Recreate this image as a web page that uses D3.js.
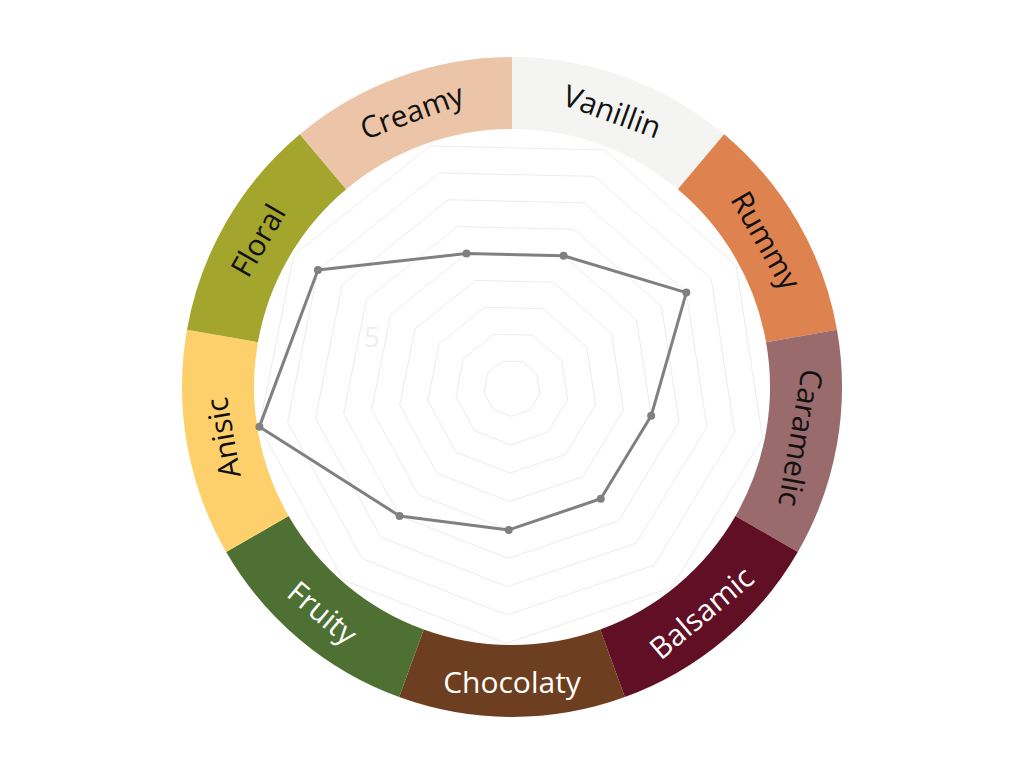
<!DOCTYPE html>
<html>
<head>
<meta charset="utf-8">
<script src="https://cdn.jsdelivr.net/npm/d3@7"></script>
<style>
  body { margin: 0; background: #fff; }
  svg { display: block; }
  text { font-family: "Open Sans", "Noto Sans", sans-serif; }
</style>
</head>
<body>
<div id="chart"></div>
<script>
const categories = ["Vanillin", "Rummy", "Caramelic", "Balsamic", "Chocolaty", "Fruity", "Anisic", "Floral", "Creamy"];
const values = [5, 7, 5, 5, 5, 6, 9, 8, 5];
const ringColors = ["#f4f4f2", "#de834f", "#9a6b6c", "#600f24", "#6e3e21", "#4e7133", "#fed06c", "#a4a52d", "#ecc5a8"];
const textColors = ["#111", "#111", "#111", "#fff", "#fff", "#fff", "#111", "#111", "#111"];
const levels = [1, 2, 3, 4, 5, 6, 7, 8, 9];
const tickLabels = ["5"];

const width = 1024;
const height = 768;
const cx = 512, cy = 387;
const outerR = 330, innerR = 258;

const svg = d3.select("#chart")
    .append("svg")
    .attr("width", width)
    .attr("height", height);

const n = categories.length;
const step = 2 * Math.PI / n;

// ring of categories
const arc = d3.arc().innerRadius(innerR).outerRadius(outerR);
const ring = svg.append("g").attr("transform", `translate(${cx},${cy})`);

ring.selectAll("path")
    .data(categories)
    .enter()
    .append("path")
    .attr("d", (d, i) => arc({startAngle: i * step, endAngle: (i + 1) * step}))
    .attr("fill", (d, i) => ringColors[i]);

const midR = (innerR + outerR) / 2;
ring.selectAll("text")
    .data(categories)
    .enter()
    .append("text")
    .attr("transform", (d, i) => {
        const a = (i + 0.5) * 360 / n;
        const rad = a * Math.PI / 180;
        const x = midR * Math.sin(rad);
        const y = -midR * Math.cos(rad);
        const rot = (a > 110 && a < 250) ? a - 180 : a;
        return `translate(${x},${y}) rotate(${rot})`;
    })
    .attr("text-anchor", "middle")
    .attr("dominant-baseline", "central")
    .attr("font-size", 30)
    .attr("fill", (d, i) => textColors[i])
    .text(d => d);

// radar (sits a touch turned in the original)
const r = d3.scaleLinear().domain([0, 9]).range([0, 255.5]);
const tilt = 1.3 * Math.PI / 180;
const angle = i => (i + 0.5) * step + tilt;
const radar = svg.append("g").attr("transform", `translate(${cx},${cy + 1})`);

const lineRadial = d3.lineRadial()
    .angle((d, i) => angle(i))
    .radius(d => r(d))
    .curve(d3.curveLinearClosed);

radar.selectAll(".grid")
    .data(levels)
    .enter()
    .append("path")
    .attr("class", "grid")
    .attr("d", lv => lineRadial(categories.map(() => lv)))
    .attr("fill", "none")
    .attr("stroke", "#ececec")
    .attr("stroke-width", 1);

radar.selectAll(".tick")
    .data(tickLabels)
    .enter()
    .append("text")
    .attr("class", "tick")
    .attr("x", d => -r(+d) + 2)
    .attr("y", -52)
    .attr("text-anchor", "middle")
    .attr("dominant-baseline", "central")
    .attr("font-size", 28)
    .attr("fill", "#eeeeee")
    .text(d => d);

radar.append("path")
    .attr("d", lineRadial(values))
    .attr("fill", "none")
    .attr("stroke", "#808080")
    .attr("stroke-width", 3)
    .attr("stroke-linejoin", "round");

radar.selectAll(".pt")
    .data(values)
    .enter()
    .append("circle")
    .attr("class", "pt")
    .attr("cx", (d, i) => r(d) * Math.sin(angle(i)))
    .attr("cy", (d, i) => -r(d) * Math.cos(angle(i)))
    .attr("r", 4)
    .attr("fill", "#808080");
</script>
</body>
</html>
